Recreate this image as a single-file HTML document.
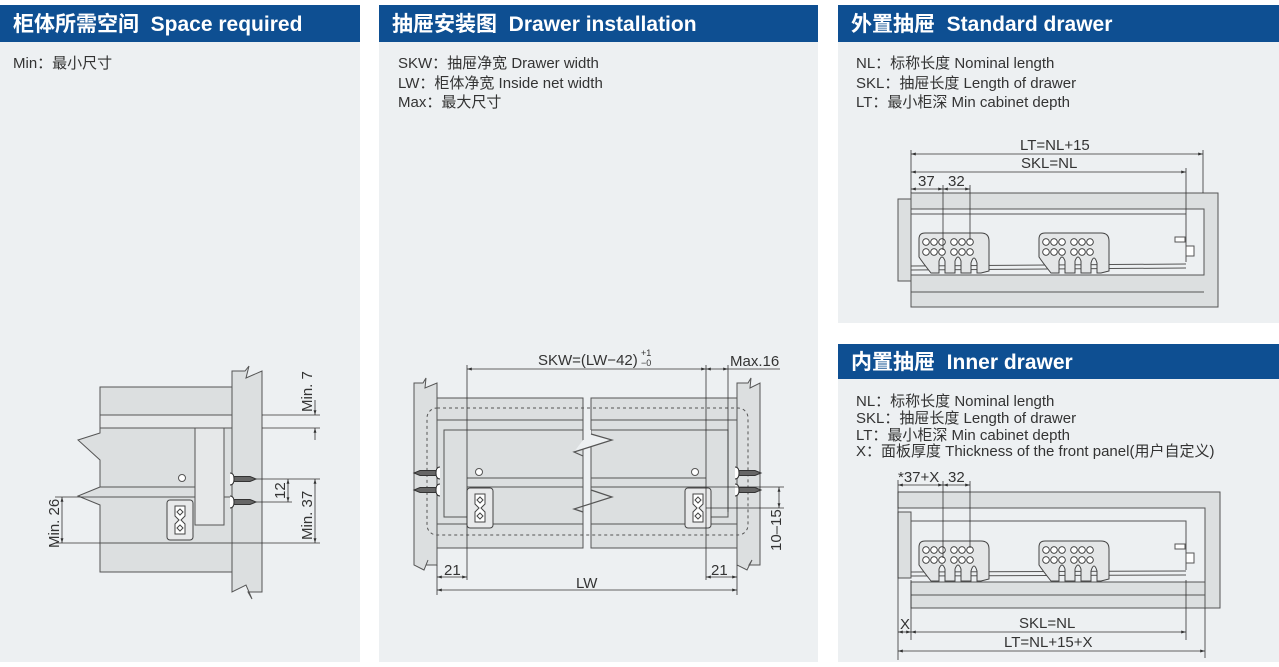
<!DOCTYPE html>
<html><head><meta charset="utf-8"><style>
body{margin:0;background:#fff;width:1279px;height:667px;overflow:hidden;font-family:"Liberation Sans","Noto Sans CJK SC",sans-serif}
svg{position:absolute;left:0;top:0}
</style></head><body>
<svg width="1279" height="667" viewBox="0 0 1279 667" font-family="Liberation Sans, Noto Sans CJK SC, sans-serif">
<defs>
<marker id="a" viewBox="0 0 10 10" refX="10" refY="5" markerWidth="6" markerHeight="6" orient="auto-start-reverse"><path d="M0,2 L10,5 L0,8z" fill="#333"/></marker>
<g id="br">
<path d="M2,6 Q2,0 8,0 L64,0 Q72,0 72,8 L72,38 L64,40 L60,40 L60,30 Q57,20 54,30 L54,40 L44,40 L44,28 Q41,20 38,28 L38,40 L28,40 L28,28 Q25,20 22,28 L22,40 L14,40 Q6,30 2,24 Z" fill="#e4e6e7" stroke="#444" stroke-width="1"/>
<g fill="#fff" stroke="#333" stroke-width="0.9">
<circle cx="9" cy="9" r="3.3"/><circle cx="17" cy="9" r="3.3"/><circle cx="25" cy="9" r="3.3"/><circle cx="37" cy="9" r="3.3"/><circle cx="45" cy="9" r="3.3"/><circle cx="53" cy="9" r="3.3"/>
<circle cx="9" cy="19" r="3.3"/><circle cx="17" cy="19" r="3.3"/><circle cx="25" cy="19" r="3.3"/><circle cx="37" cy="19" r="3.3"/><circle cx="45" cy="19" r="3.3"/><circle cx="53" cy="19" r="3.3"/></g>
</g>
<g id="rn"><rect x="0" y="0" width="26" height="40" rx="3" fill="#e8e9ea" stroke="#444"/><path d="M8,6 L18,6 L18,16 L14,20 L18,24 L18,34 L8,34 L8,24 L12,20 L8,16Z" fill="#fff" stroke="#444"/><path d="M13,9 l3,3 -3,3 -3,-3z M13,25 l3,3 -3,3 -3,-3z" fill="none" stroke="#444"/></g>
<g id="sc"><path d="M0,-6 Q4,-6 4,0 Q4,6 0,6" fill="#fff" stroke="#333"/><path d="M4,-2.5 L20,-2.5 L26,0 L20,2.5 L4,2.5Z" fill="#666" stroke="#333"/></g>
</defs>
<rect x="0" y="5" width="360" height="657" fill="#edf0f2"/>
<rect x="379" y="5" width="439" height="657" fill="#edf0f2"/>
<rect x="838" y="5" width="441" height="318" fill="#edf0f2"/>
<rect x="838" y="344" width="441" height="318" fill="#edf0f2"/>
<rect x="0" y="5" width="360" height="37" fill="#0e4f92"/>
<rect x="379" y="5" width="439" height="37" fill="#0e4f92"/>
<rect x="838" y="5" width="441" height="37" fill="#0e4f92"/>
<rect x="838" y="344" width="441" height="35" fill="#0e4f92"/>
<g fill="#fff" font-weight="bold" font-size="21">
<text x="13" y="31" xml:space="preserve">柜体所需空间  Space required</text>
<text x="392" y="31" xml:space="preserve">抽屉安装图  Drawer installation</text>
<text x="851" y="31" xml:space="preserve">外置抽屉  Standard drawer</text>
<text x="851" y="369" xml:space="preserve">内置抽屉  Inner drawer</text>
</g>
<g fill="#333" font-size="15" xml:space="preserve">
<text x="13" y="68">Min：最小尺寸</text>
<text x="398" y="68">SKW：抽屉净宽  Drawer width</text>
<text x="398" y="88">LW：柜体净宽  Inside net width</text>
<text x="398" y="107">Max：最大尺寸</text>
<text x="856" y="68">NL：标称长度 Nominal length</text>
<text x="856" y="88">SKL：抽屉长度 Length of drawer</text>
<text x="856" y="107">LT：最小柜深  Min cabinet depth</text>
<text x="856" y="406">NL：标称长度 Nominal length</text>
<text x="856" y="423">SKL：抽屉长度 Length of drawer</text>
<text x="856" y="440">LT：最小柜深  Min cabinet depth</text>
<text x="856" y="456">X：面板厚度  Thickness of the front panel(用户自定义)</text>
</g>

<!-- PANEL 1 -->
<g stroke="#555" stroke-width="1" fill="#dcdfe0">
<rect x="100" y="387" width="132" height="28"/>
<rect x="100" y="415" width="132" height="13" fill="#e6e8e9"/>
<path d="M100,428 L232,428 L232,543 L100,543 L100,505 L78,496 L100,487 L100,460 L78,440 L100,433Z"/>
<rect x="100" y="543" width="132" height="29"/>
<line x1="100" y1="487" x2="195" y2="487"/>
<line x1="100" y1="497" x2="232" y2="497"/>
<path d="M195,428 L224,428 L224,525 L195,525Z" fill="#e6e8e9"/>
<path d="M232,371 L245,371 L249,366 L246,378 L262,371 L262,592 L248,592 L252,599 L246,585 L232,592Z"/>
<circle cx="182" cy="478" r="3.5" fill="#fff"/>
</g>
<use href="#rn" x="167" y="500"/>
<use href="#sc" x="230" y="479"/><use href="#sc" x="230" y="502"/>
<g stroke="#333" stroke-width="0.8" fill="none">
<line x1="262" y1="415" x2="320" y2="415"/><line x1="262" y1="428" x2="320" y2="428"/>
<line x1="315" y1="400" x2="315" y2="415" marker-end="url(#a)"/><line x1="315" y1="440" x2="315" y2="428" marker-end="url(#a)"/>
<line x1="255" y1="479" x2="320" y2="479"/><line x1="255" y1="502" x2="292" y2="502"/><line x1="232" y1="543" x2="320" y2="543"/>
<line x1="288" y1="479" x2="288" y2="502" marker-start="url(#a)" marker-end="url(#a)"/>
<line x1="315" y1="479" x2="315" y2="543" marker-start="url(#a)" marker-end="url(#a)"/>
<line x1="55" y1="497" x2="100" y2="497"/><line x1="55" y1="543" x2="100" y2="543"/>
<line x1="62" y1="497" x2="62" y2="543" marker-start="url(#a)" marker-end="url(#a)"/>
</g>
<g fill="#333" font-size="15">
<text transform="translate(312,412) rotate(-90)">Min. 7</text>
<text transform="translate(285,499) rotate(-90)">12</text>
<text transform="translate(312,540) rotate(-90)">Min. 37</text>
<text transform="translate(59,548) rotate(-90)">Min. 26</text>
</g>

<!-- PANEL 2 -->
<g stroke="#555" stroke-width="1" fill="#dcdfe0">
<path d="M414,383 L423,383 L426,378 L425,388 L437,383 L437,565 L426,565 L428,560 L424,570 L414,565Z"/>
<path d="M737,383 L748,383 L751,378 L750,388 L760,383 L760,565 L749,565 L752,560 L747,570 L737,565Z"/>
<path d="M437,398 L583,398 L583,548 L437,548Z"/>
<path d="M591,398 L737,398 L737,548 L591,548Z"/>
<line x1="437" y1="420" x2="583" y2="420"/><line x1="591" y1="420" x2="737" y2="420"/>
<path d="M444,512 L444,430 L583,430 M591,430 L728,430 L728,512" fill="none"/>
<line x1="467" y1="478" x2="583" y2="478"/><line x1="591" y1="478" x2="706" y2="478"/>
<line x1="467" y1="487" x2="583" y2="487"/><line x1="591" y1="487" x2="706" y2="487"/>
<line x1="437" y1="524" x2="583" y2="524"/><line x1="591" y1="524" x2="737" y2="524"/>
<path d="M583,430 L583,440 L574,452 L612,440 L591,434 L591,430Z" fill="#edf0f2" stroke="none"/>
<path d="M591,434 L612,440 L574,452 L583,456" fill="none" stroke-width="1.2"/>
<path d="M583,430 L583,440 M574,452" fill="none"/>
<path d="M591,490 L612,497 L574,509 L583,512" fill="none" stroke-width="1.2"/>
<path d="M444,512 L444,517 L467,517 M728,512 L728,517 L706,517" fill="none"/>
<rect x="427" y="408" width="321" height="127" rx="10" fill="none" stroke-dasharray="3,3"/>
<circle cx="479" cy="472" r="3.5" fill="#fff"/><circle cx="695" cy="472" r="3.5" fill="#fff"/>
</g>
<use href="#rn" x="467" y="488"/><use href="#rn" x="685" y="488"/>
<use href="#sc" x="440" y="473" transform="translate(880,0) scale(-1,1)"/>
<use href="#sc" x="440" y="490" transform="translate(880,0) scale(-1,1)"/>
<use href="#sc" x="735" y="473"/><use href="#sc" x="735" y="490"/>
<g stroke="#333" stroke-width="0.8" fill="none">
<line x1="467" y1="365" x2="467" y2="580"/><line x1="706" y1="365" x2="706" y2="580"/><line x1="728" y1="365" x2="728" y2="512"/>
<line x1="467" y1="369" x2="706" y2="369" marker-start="url(#a)" marker-end="url(#a)"/>
<line x1="706" y1="369" x2="728" y2="369" marker-start="url(#a)" marker-end="url(#a)"/>
<line x1="728" y1="369" x2="780" y2="369"/>
<line x1="437" y1="565" x2="437" y2="595"/><line x1="737" y1="565" x2="737" y2="595"/>
<line x1="437" y1="577" x2="467" y2="577" marker-start="url(#a)" marker-end="url(#a)"/>
<line x1="706" y1="577" x2="737" y2="577" marker-start="url(#a)" marker-end="url(#a)"/>
<line x1="437" y1="590" x2="737" y2="590" marker-start="url(#a)" marker-end="url(#a)"/>
<line x1="706" y1="487" x2="784" y2="487"/><line x1="706" y1="508" x2="784" y2="508"/>
<line x1="779" y1="487" x2="779" y2="508" marker-start="url(#a)" marker-end="url(#a)"/>
</g>
<g fill="#333" font-size="15">
<text x="538" y="365">SKW=(LW−42)</text><text x="641" y="356" font-size="9">+1</text><text x="641" y="366" font-size="9">−0</text>
<text x="730" y="366">Max.16</text>
<text x="444" y="575">21</text><text x="711" y="575">21</text><text x="576" y="588">LW</text>
<text transform="translate(781,551) rotate(-90)">10–15</text>
</g>

<!-- PANEL 3 -->
<g stroke="#555" stroke-width="1" fill="#dcdfe0">
<rect x="911" y="193" width="307" height="114"/>
<rect x="911" y="209" width="293" height="66" fill="#edf0f2"/>
<line x1="911" y1="214" x2="1186" y2="214"/>
<line x1="1186" y1="214" x2="1186" y2="262"/>
<line x1="911" y1="292" x2="1204" y2="292"/>
<rect x="898" y="199" width="13" height="82"/>
<rect x="1175" y="237" width="10" height="5" fill="#fff"/><rect x="1186" y="246" width="8" height="10" fill="#fff"/>
<line x1="911" y1="266" x2="1186" y2="264"/><line x1="911" y1="270" x2="1186" y2="268"/>
</g>
<use href="#br" x="917" y="233"/><use href="#br" x="1037" y="233"/>
<g stroke="#333" stroke-width="0.8" fill="none">
<line x1="911" y1="150" x2="911" y2="193"/><line x1="1203" y1="150" x2="1203" y2="193"/><line x1="1186" y1="168" x2="1186" y2="214"/>
<line x1="911" y1="154" x2="1203" y2="154" marker-start="url(#a)" marker-end="url(#a)"/>
<line x1="911" y1="172" x2="1186" y2="172" marker-start="url(#a)" marker-end="url(#a)"/>
<line x1="911" y1="189" x2="943" y2="189" marker-start="url(#a)" marker-end="url(#a)"/>
<line x1="943" y1="189" x2="970" y2="189" marker-start="url(#a)" marker-end="url(#a)"/>
<line x1="943" y1="185" x2="943" y2="250"/><line x1="970" y1="185" x2="970" y2="240"/>
</g>
<g fill="#333" font-size="15">
<text x="1020" y="150">LT=NL+15</text><text x="1021" y="168">SKL=NL</text><text x="918" y="186">37</text><text x="948" y="186">32</text>
</g>

<!-- PANEL 4 -->
<g stroke="#555" stroke-width="1" fill="#dcdfe0">
<path d="M898,492 L1220,492 L1220,608 L1205,608 L1205,508 L898,508Z"/>
<rect x="911" y="582" width="294" height="26"/>
<line x1="911" y1="595" x2="1205" y2="595"/>
<rect x="898" y="512" width="13" height="66"/>
<path d="M911,521 L1186,521 L1186,570" fill="none"/>
<rect x="1175" y="544" width="10" height="5" fill="#fff"/><rect x="1186" y="553" width="8" height="10" fill="#fff"/>
<line x1="911" y1="572" x2="1186" y2="571"/><line x1="911" y1="576" x2="1186" y2="575"/>
</g>
<use href="#br" x="917" y="541"/><use href="#br" x="1037" y="541"/>
<g stroke="#333" stroke-width="0.8" fill="none">
<line x1="898" y1="480" x2="898" y2="660"/><line x1="911" y1="580" x2="911" y2="640"/>
<line x1="1186" y1="580" x2="1186" y2="640"/><line x1="1205" y1="608" x2="1205" y2="658"/>
<line x1="898" y1="632" x2="911" y2="632" marker-start="url(#a)" marker-end="url(#a)"/>
<line x1="911" y1="632" x2="1186" y2="632" marker-start="url(#a)" marker-end="url(#a)"/>
<line x1="898" y1="651" x2="1205" y2="651" marker-start="url(#a)" marker-end="url(#a)"/>
<line x1="898" y1="485" x2="943" y2="485" marker-start="url(#a)" marker-end="url(#a)"/>
<line x1="943" y1="485" x2="970" y2="485" marker-start="url(#a)" marker-end="url(#a)"/>
<line x1="943" y1="481" x2="943" y2="558"/><line x1="970" y1="481" x2="970" y2="548"/>
</g>
<g fill="#333" font-size="15">
<text x="898" y="482">*37+X</text><text x="948" y="482">32</text>
<text x="900" y="629">X</text><text x="1019" y="628">SKL=NL</text><text x="1004" y="647">LT=NL+15+X</text>
</g>
</svg>
</body></html>
